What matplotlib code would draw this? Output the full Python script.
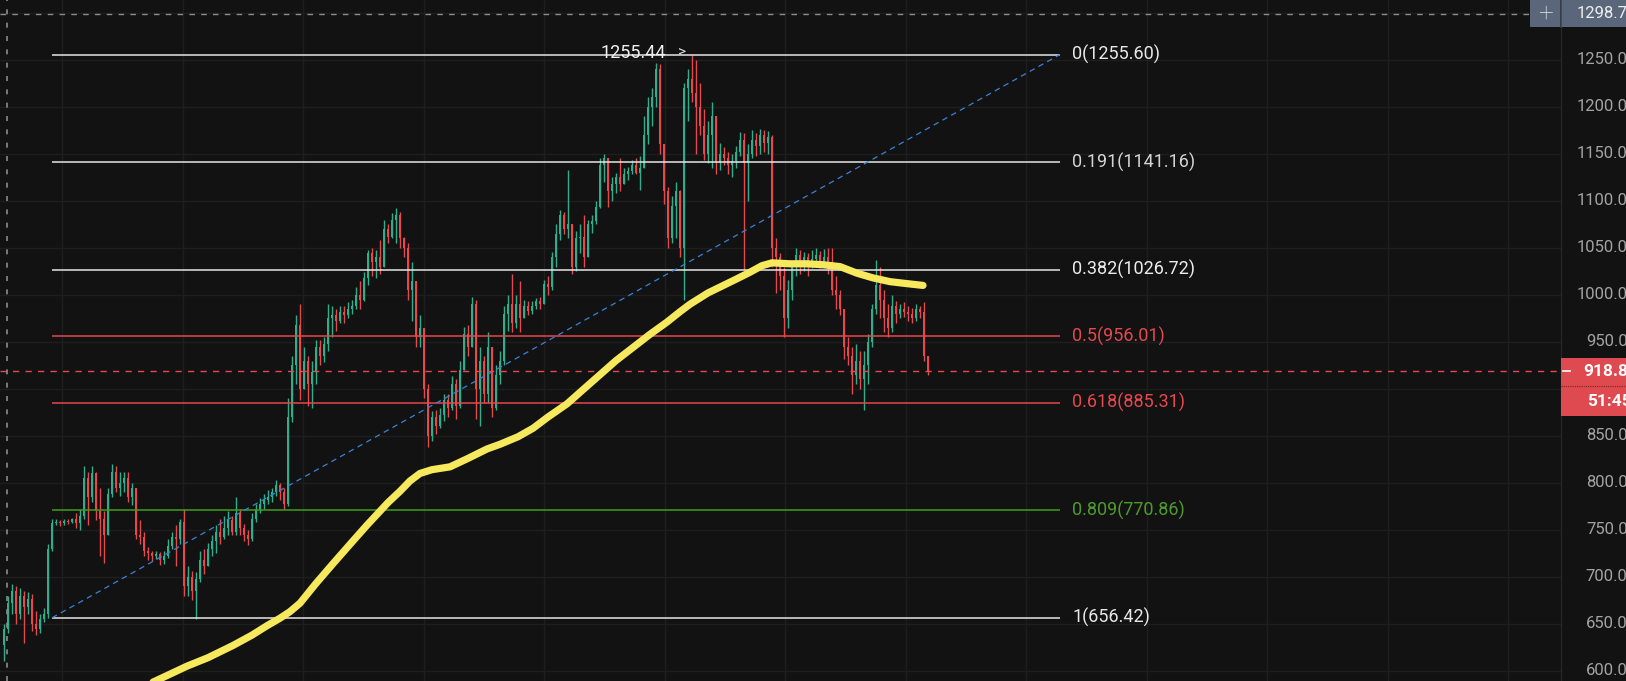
import matplotlib
matplotlib.use('Agg')
import matplotlib.pyplot as plt
from matplotlib.transforms import blended_transform_factory
from matplotlib.patches import Rectangle
from matplotlib.lines import Line2D
import numpy as np

# ---------------- data ----------------
first_open = 628
closes = [645, 672, 685, 660, 680, 668, 676, 650, 645, 655,
          660, 730, 757, 758, 757, 759, 758, 761, 757, 765,
          805, 785, 810, 770, 762, 745, 788, 812, 795, 800,
          805, 785, 795, 745, 742, 728, 725, 722, 724, 718,
          722, 733, 742, 740, 758, 690, 700, 685, 698, 718,
          712, 730, 738, 748, 742, 752, 760, 748, 768, 752,
          745, 740, 762, 772, 778, 782, 785, 790, 798, 790,
          778, 870, 925, 968, 900, 930, 905, 918, 945, 935,
          948, 975, 978, 972, 982, 978, 985, 988, 1000, 995,
          1018, 1045, 1035, 1040, 1030, 1070, 1062, 1080, 1085, 1060,
          1050, 1005, 1015, 955, 965, 900, 850, 870, 860, 872,
          888, 880, 905, 882, 920, 958, 945, 990, 900, 930,
          895, 945, 880, 915, 930, 980, 990, 970, 990, 975,
          988, 983, 988, 993, 990, 1012, 1008, 1040, 1065, 1085,
          1070, 1075, 1030, 1060, 1062, 1040, 1075, 1078, 1093, 1138,
          1145, 1110, 1118, 1125, 1118, 1128, 1132, 1138, 1130, 1135,
          1170, 1200, 1210, 1240, 1160, 1110, 1060, 1095, 1110, 1050,
          1220, 1230, 1215, 1200, 1180, 1150, 1170, 1190, 1140, 1150,
          1145, 1138, 1142, 1152, 1165, 1140, 1150, 1165, 1158, 1170,
          1162, 1168, 1050, 1040, 1020, 975, 1005, 1030, 1042, 1035,
          1040, 1030, 1038, 1042, 1035, 1040, 1030, 1005, 1000, 985,
          945, 935, 915, 930, 910, 925, 950, 985, 1010, 995,
          975, 965, 988, 980, 985, 982, 980, 975, 985, 982,
          935, 918.8]
highs = [650, 680, 692, 690, 688, 685, 684, 682, 664, 660,
         667, 735, 762, 761, 760, 761, 762, 763, 768, 772,
         818, 812, 818, 812, 795, 770, 795, 820, 818, 812,
         812, 811, 800, 790, 760, 748, 732, 728, 728, 726,
         727, 740, 748, 755, 762, 772, 712, 706, 705, 727,
         730, 736, 745, 755, 762, 765, 770, 765, 785, 772,
         756, 750, 768, 778, 784, 788, 792, 795, 803, 800,
         795, 890, 935, 978, 990, 945, 935, 930, 952, 952,
         955, 990, 988, 985, 988, 988, 992, 994, 1008, 1015,
         1024, 1048, 1050, 1048, 1058, 1080, 1075, 1087, 1092, 1088,
         1062, 1055, 1035, 990, 978, 965, 905, 876, 878, 880,
         895, 895, 914, 910, 930, 966, 968, 998, 995, 945,
         935, 960, 945, 925, 940, 988, 1000, 1022, 1000, 1015,
         995, 993, 993, 997, 998, 1016, 1020, 1046, 1075, 1090,
         1088, 1133, 1075, 1068, 1075, 1085, 1080, 1085, 1100, 1145,
         1150, 1145, 1125, 1130, 1145, 1135, 1136, 1143, 1145, 1148,
         1190, 1210, 1220, 1247, 1245, 1160, 1115, 1105, 1120, 1112,
         1225, 1240, 1255.44, 1250, 1225, 1198, 1185, 1205, 1170, 1162,
         1157, 1152, 1150, 1158, 1173, 1172, 1160, 1175, 1172, 1176,
         1175, 1174, 1170, 1060, 1045, 1030, 1016, 1035, 1050, 1048,
         1046, 1045, 1048, 1050, 1047, 1049, 1050, 1050, 1020, 1005,
         985, 955, 945, 948, 940, 940, 958, 990, 1037, 1030,
         1005, 990, 1000, 993, 990, 992, 988, 986, 990, 988,
         992, 935]
lows = [610, 640, 660, 650, 655, 630, 660, 642, 638, 640,
        652, 656, 728, 755, 754, 755, 756, 757, 752, 750,
        762, 755, 780, 760, 722, 715, 745, 785, 790, 786,
        790, 780, 776, 740, 735, 722, 718, 717, 719, 713,
        714, 720, 730, 712, 735, 680, 680, 675, 655, 695,
        703, 712, 722, 725, 735, 740, 745, 744, 745, 745,
        738, 734, 738, 758, 768, 772, 778, 780, 786, 782,
        772, 775, 865, 905, 888, 905, 882, 880, 905, 925,
        928, 940, 955, 962, 970, 970, 975, 980, 985, 985,
        993, 1010, 1020, 1018, 1022, 1030, 1055, 1060, 1055, 1050,
        1040, 995, 972, 945, 944, 890, 838, 845, 852, 858,
        866, 870, 878, 868, 880, 920, 935, 950, 868, 860,
        885, 885, 870, 878, 905, 925, 962, 960, 965, 960,
        980, 978, 980, 985, 985, 990, 1000, 1005, 1030, 1058,
        1065, 1060, 1022, 1025, 1045, 1030, 1040, 1066, 1075, 1092,
        1120, 1093, 1100, 1108, 1110, 1118, 1122, 1128, 1128, 1112,
        1135, 1160, 1180, 1200, 1150, 1097, 1050, 1055, 1060, 1040,
        995, 1185, 1205, 1150, 1170, 1143, 1140, 1135, 1128, 1133,
        1138, 1128, 1125, 1135, 1148, 1026, 1100, 1145, 1148, 1150,
        1152, 1150, 1030, 1002, 1005, 955, 965, 995, 1020, 1022,
        1025, 1020, 1028, 1030, 1028, 1030, 1022, 1000, 985, 978,
        932, 925, 895, 905, 900, 877, 905, 945, 980, 975,
        960, 955, 960, 970, 975, 976, 972, 970, 972, 975,
        930, 915]

# moving average (yellow), read at candle positions
ma_idx = [30, 37.75, 45.75, 51, 57.25, 62, 65.75, 69, 71.5, 74, 78, 82.25, 87,
          90.75, 96, 99, 101.5, 104, 107, 111.5, 116, 120.75, 124, 128.5,
          132.25, 136, 140.75, 145, 149, 153, 157.25, 161.5, 165.75, 169,
          171.5, 176, 182.25, 186.5, 189.5, 192, 196.5, 200.5, 204.75, 209,
          213.25, 217.25, 221.5, 225.5, 229.75]
ma_val = [575, 589, 605, 614, 627, 638, 648, 656, 663, 672, 693, 714, 737,
          755, 779, 791, 802, 810, 814, 817, 826, 836, 841, 849,
          858, 870, 884, 900, 915, 930, 944, 958, 971, 982,
          990, 1002, 1015, 1024, 1031, 1034, 1033, 1033, 1032, 1030,
          1023, 1018, 1014, 1012, 1010]

fib_ratios = ['0', '0.191', '0.382', '0.5', '0.618', '0.809', '1']
fib_values = [1255.60, 1141.16, 1026.72, 956.01, 885.31, 770.86, 656.42]
fib_colors = ['#e6e6e6', '#e6e6e6', '#e6e6e6', '#e5484d', '#e5484d', '#3f9e1c', '#e6e6e6']
fib_text_colors = ['#e8e8e8', '#d4d4d4', '#ececec', '#e5484d', '#e5484d', '#4f9a2c', '#e8e8e8']

axis_ticks = [600, 650, 700, 750, 800, 850, 900, 950, 1000, 1050, 1100, 1150, 1200, 1250]
last_price = 918.8
countdown = '51:45'
cross_price = 1298.7
high_label = '1255.44'

# ---------------- style ----------------
BG = '#121212'
GRID = '#1e1e1e'
GREEN = '#2fae8c'
RED = '#e5484d'
W, H = 1626, 681
PLOT_W = 1561

plt.rcParams['font.family'] = ['Roboto', 'DejaVu Sans']

fig = plt.figure(figsize=(W / 100, H / 100), dpi=100, facecolor=BG)
ax = fig.add_axes([0, 0, PLOT_W / W, 1])
ax.set_facecolor(BG)
ax.set_xlim(-1, (PLOT_W - 4) / 4)
ax.set_ylim(589.2, 1313.6)
for s in ax.spines.values():
    s.set_visible(False)
ax.set_xticks([])
ax.set_yticks([])

# grid
for p in axis_ticks + [1300]:
    ax.axhline(p, color=GRID, lw=1, zorder=0)
for k in range(13):
    xg = 62 + 120.5 * k
    ax.axvline((xg - 4) / 4, color=GRID, lw=1, zorder=0)

# candles
n = len(closes)
opens = [first_open] + closes[:-1]
for i in range(n):
    o, c, h, l = opens[i], closes[i], highs[i], lows[i]
    col = GREEN if c >= o else RED
    ax.vlines(i, min(l, o, c), max(h, o, c), color=col, lw=1.0, zorder=2)
    ax.bar(i, max(abs(c - o), 1.2), bottom=min(o, c), width=0.62, color=col,
           linewidth=0, zorder=2)

# fib levels
fx0, fx1 = (52 - 4) / 4, (1060 - 4) / 4
for r, v, lc, tc in zip(fib_ratios, fib_values, fib_colors, fib_text_colors):
    ax.plot([fx0, fx1], [v, v], color=lc, lw=1.1, zorder=3, solid_capstyle='butt')
    ax.text((1072 - 4) / 4, v, f'{r}({v:.2f})', color=tc, fontsize=13,
            va='center', ha='left', zorder=5)

# trend line (fib diagonal)
ax.plot([fx0, fx1], [fib_values[-1], fib_values[0]], color='#3a82d6', lw=0.9,
        dashes=(4.5, 3.5), zorder=3)

# moving average
ax.plot(ma_idx, ma_val, color='#f6e95e', lw=5.2, solid_capstyle='round',
        solid_joinstyle='round', zorder=4)

# high label
ax.text((666 - 4) / 4, 1257.3, high_label, color='#f0f0f0', fontsize=13,
        ha='right', va='center', zorder=6)
ax.text((682 - 4) / 4, 1258.0, '>', color='#e0e0e0', fontsize=11,
        ha='center', va='center', zorder=6)

# current price line
ax.axhline(last_price, color=RED, lw=1.0, dashes=(4.5, 4.5), zorder=3)

# crosshair
ax.axhline(cross_price, xmax=(1530) / PLOT_W, color='#8c8c8c', lw=1.0,
           dashes=(4, 4.5), zorder=3)
ax.axvline((7 - 4) / 4, color='#8c8c8c', lw=1.2, dashes=(3, 5), zorder=3)

# ---------------- right price axis ----------------
tr = blended_transform_factory(fig.transFigure, ax.transData)
fig.add_artist(Line2D([PLOT_W / W, PLOT_W / W], [0, 1], color='#262626', lw=1,
                      transform=fig.transFigure))
for t in axis_ticks:
    ax.text(1637 / W, t, f'{t:.2f}', color='#a3a3a3', fontsize=12,
            ha='right', va='center', transform=tr, clip_on=False)


def fig_rect(x0, y0, x1, y1, color, z=10):
    fig.add_artist(Rectangle((x0 / W, (H - y1) / H), (x1 - x0) / W, (y1 - y0) / H,
                             transform=fig.transFigure, facecolor=color,
                             edgecolor='none', zorder=z))


# last price box
fig_rect(1561, 358, 1626, 416, '#de4a4f')
fig.text(1583 / W, (H - 371) / H, f'{last_price:.2f}', color='white', fontsize=12.5,
         fontweight='bold', ha='left', va='center', zorder=11)
fig.text(1587 / W, (H - 402) / H, countdown, color='white', fontsize=12.5,
         fontweight='bold', ha='left', va='center', zorder=11)
fig.add_artist(Line2D([1561 / W, 1626 / W], [(H - 386) / H] * 2, color='#7a2226',
                      lw=0.8, dashes=(1, 1), transform=fig.transFigure, zorder=11))
fig.add_artist(Line2D([1563 / W, 1570 / W], [(H - 371) / H] * 2, color='white',
                      lw=1.2, transform=fig.transFigure, zorder=11))

# crosshair price box and "+" button
fig_rect(1530, 0, 1560, 27, '#5a6679')
fig_rect(1561, 0, 1626, 27, '#5a6679')
fig.add_artist(Line2D([1560.5 / W, 1560.5 / W], [(H - 27) / H, 1], color='#3c4553',
                      lw=1.2, transform=fig.transFigure, zorder=11))
fig.text(1545 / W, (H - 13.5) / H, '+', color='#e6e6e6', fontsize=19,
         fontweight='light', ha='center', va='center', zorder=12)
fig.text(1637 / W, (H - 13.5) / H, f'{cross_price:.2f}', color='#eeeeee',
         fontsize=12, ha='right', va='center', zorder=12)

fig.savefig('out.png', dpi=100, facecolor=BG)
